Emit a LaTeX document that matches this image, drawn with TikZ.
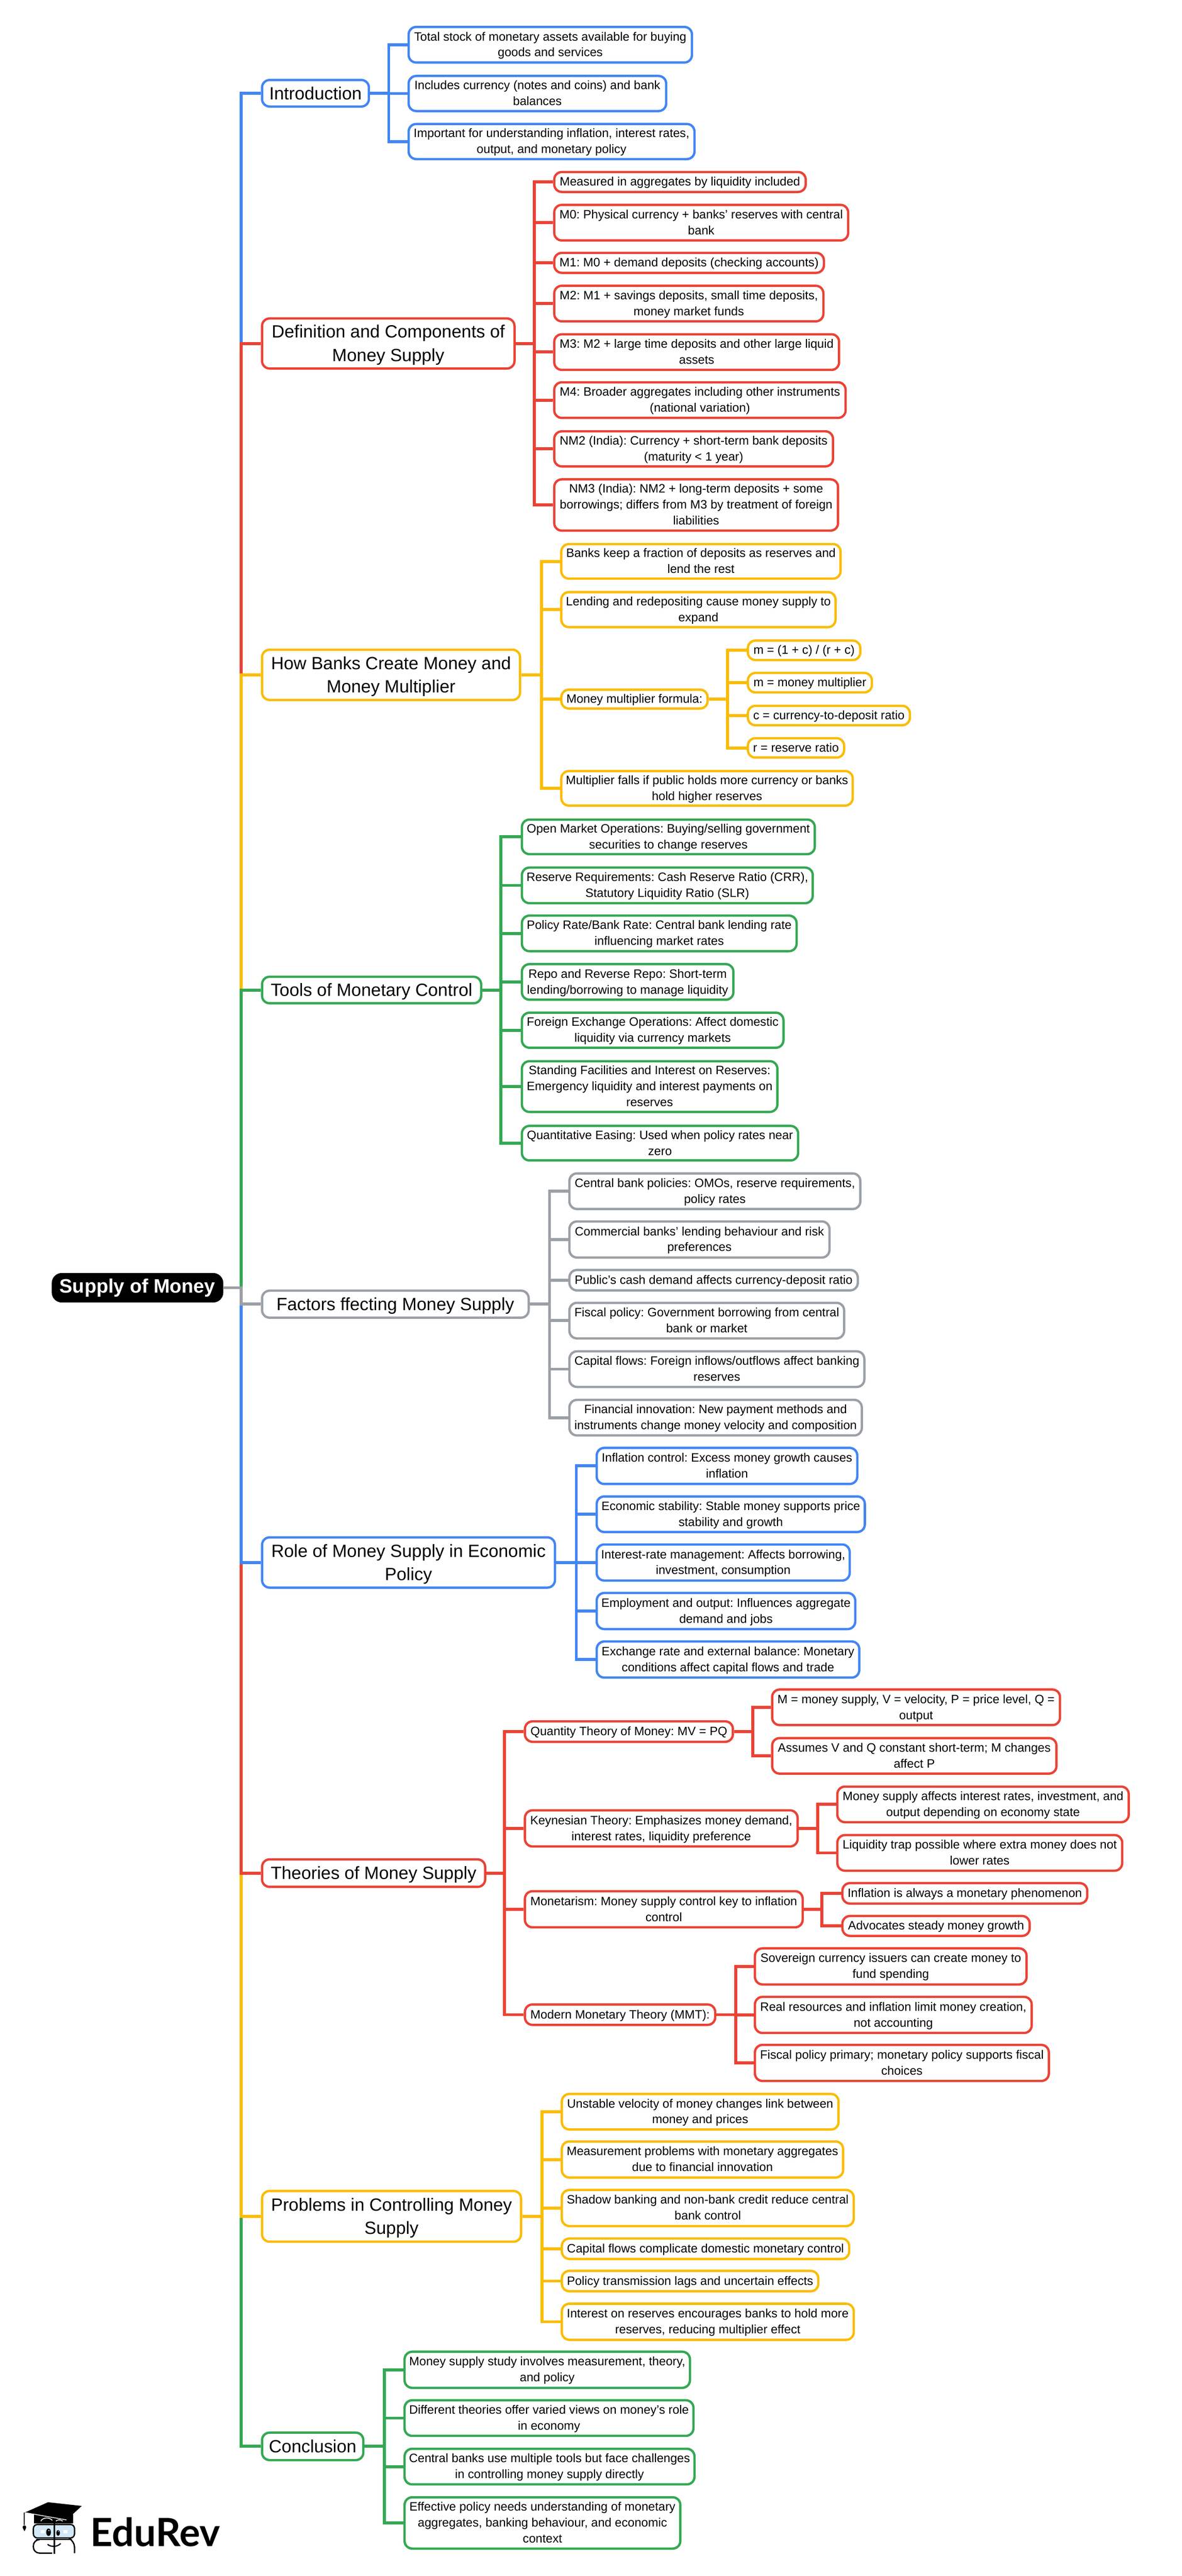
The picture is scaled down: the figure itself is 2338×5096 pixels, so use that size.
\documentclass[tikz,border=0pt]{standalone}
\usepackage{fontspec}
\setmainfont{Liberation Sans}
\newfontfamily\brandfont{Lato}
\definecolor{mapblue}{rgb}{0.259,0.522,0.957}
\definecolor{mapred}{rgb}{0.918,0.263,0.208}
\definecolor{mapyellow}{rgb}{0.984,0.737,0.016}
\definecolor{mapgreen}{rgb}{0.204,0.659,0.325}
\definecolor{mapgrey}{rgb}{0.604,0.627,0.651}
\definecolor{glassblue}{rgb}{0.82,0.91,0.97}
\tikzset{
  mapbox/.style={draw,fill=white,rounded corners=7.5pt,line width=2.3pt,inner sep=0pt,align=center,execute at begin node=\frenchspacing},
  leaf/.style={mapbox,font=\fontsize{12.05}{15.75}\selectfont\def\nudgept{1.5pt}},
  topic/.style={mapbox,font=\fontsize{17.5}{23.25}\selectfont\def\nudgept{3pt}},
  rootbox/.style={fill=black,text=white,rounded corners=10pt,inner sep=0pt,font=\fontsize{19.25}{24}\selectfont\bfseries\def\nudgept{1pt}},
  link/.style={line width=3pt}
}
% style, name, left, top, right, bottom, text
\newcommand{\mapnode}[7]{\node[#1,minimum width={(#5-#3-4.6)*0.5pt},minimum height={(#6-#4-4.6)*0.5pt}] (#2) at ({(#3+#5)/2},{(#4+#6)/2}) {\rule{0pt}{\dimexpr0.7\baselineskip+\nudgept}#7\strut};}
% colour, parent, run to the fork, children
\newcommand{\fanout}[4]{\foreach \kid in {#4} \draw[link,#1] (#2.east) -- ++(#3,0) |- (\kid.west);}
\begin{document}
\begin{tikzpicture}[x=0.5pt,y=-0.5pt,line join=miter]
\useasboundingbox (0,0) rectangle (2338,5096);
\mapnode{rootbox}{money}{100}{2516}{444}{2579}{Supply of Money}
\mapnode{topic,draw=mapblue}{intro}{516}{156}{732}{213}{Introduction}
\mapnode{topic,draw=mapred}{defn}{516}{628}{1020}{731}{Definition and Components of\\Money Supply}
\mapnode{topic,draw=mapyellow}{banks}{516}{1283}{1031}{1387}{How Banks Create Money and\\Money Multiplier}
\mapnode{topic,draw=mapgreen}{tools}{516}{1930}{954}{1987}{Tools of Monetary Control}
\mapnode{topic,draw=mapgrey}{factors}{516}{2551}{1048}{2609}{Factors ffecting Money Supply}
\mapnode{topic,draw=mapblue}{role}{516}{3039}{1100}{3143}{Role of Money Supply in Economic\\Policy}
\mapnode{topic,draw=mapred}{theories}{516}{3676}{962}{3735}{Theories of Money Supply}
\mapnode{topic,draw=mapyellow}{problems}{516}{4332}{1033}{4437}{Problems in Controlling Money\\Supply}
\mapnode{topic,draw=mapgreen}{concl}{516}{4810}{721}{4869}{Conclusion}

\mapnode{leaf,draw=mapblue}{introa}{806}{51}{1371}{126}{Total stock of monetary assets available for buying\\goods and services}
\mapnode{leaf,draw=mapblue}{introb}{806}{148}{1320}{222}{Includes currency (notes and coins) and bank\\balances}
\mapnode{leaf,draw=mapblue}{introc}{806}{243}{1376}{317}{Important for understanding inflation, interest rates,\\output, and monetary policy}

\mapnode{leaf,draw=mapred}{defna}{1094}{338}{1596}{382}{Measured in aggregates by liquidity included}
\mapnode{leaf,draw=mapred}{defnb}{1094}{403}{1680}{478}{M0: Physical currency + banks' reserves with central\\bank}
\mapnode{leaf,draw=mapred}{defnc}{1094}{498}{1632}{542}{M1: M0 + demand deposits (checking accounts)}
\mapnode{leaf,draw=mapred}{defnd}{1094}{563}{1631}{638}{M2: M1 + savings deposits, small time deposits,\\money market funds}
\mapnode{leaf,draw=mapred}{defne}{1094}{659}{1662}{734}{M3: M2 + large time deposits and other large liquid\\assets}
\mapnode{leaf,draw=mapred}{defnf}{1094}{754}{1675}{829}{M4: Broader aggregates including other instruments\\(national variation)}
\mapnode{leaf,draw=mapred}{defng}{1094}{851}{1650}{925}{NM2 (India): Currency + short-term bank deposits\\(maturity < 1 year)}
\mapnode{leaf,draw=mapred}{defnh}{1094}{946}{1660}{1052}{NM3 (India): NM2 + long-term deposits + some\\borrowings; differs from M3 by treatment of foreign\\liabilities}

\mapnode{leaf,draw=mapyellow}{banksa}{1108}{1074}{1665}{1147}{Banks keep a fraction of deposits as reserves and\\lend the rest}
\mapnode{leaf,draw=mapyellow}{banksb}{1108}{1169}{1655}{1243}{Lending and redepositing cause money supply to\\expand}
\mapnode{leaf,draw=mapyellow}{banksc}{1108}{1362}{1402}{1404}{Money multiplier formula:}
\mapnode{leaf,draw=mapyellow}{banksd}{1108}{1523}{1689}{1596}{Multiplier falls if public holds more currency or banks\\hold higher reserves}
\mapnode{leaf,draw=mapyellow}{formula}{1477}{1265}{1704}{1308}{m = (1 + c) / (r + c)}
\mapnode{leaf,draw=mapyellow}{multi}{1477}{1329}{1727}{1372}{m = money multiplier}
\mapnode{leaf,draw=mapyellow}{curr}{1477}{1394}{1802}{1437}{c = currency-to-deposit ratio}
\mapnode{leaf,draw=mapyellow}{resv}{1477}{1458}{1672}{1501}{r = reserve ratio}

\mapnode{leaf,draw=mapgreen}{toolsa}{1030}{1619}{1614}{1692}{Open Market Operations: Buying/selling government\\securities to change reserves}
\mapnode{leaf,draw=mapgreen}{toolsb}{1030}{1714}{1610}{1789}{Reserve Requirements: Cash Reserve Ratio (CRR),\\Statutory Liquidity Ratio (SLR)}
\mapnode{leaf,draw=mapgreen}{toolsc}{1030}{1809}{1578}{1884}{Policy Rate/Bank Rate: Central bank lending rate\\influencing market rates}
\mapnode{leaf,draw=mapgreen}{toolsd}{1030}{1905}{1453}{1980}{Repo and Reverse Repo: Short-term\\lending/borrowing to manage liquidity}
\mapnode{leaf,draw=mapgreen}{toolse}{1030}{2001}{1552}{2075}{Foreign Exchange Operations: Affect domestic\\liquidity via currency markets}
\mapnode{leaf,draw=mapgreen}{toolsf}{1030}{2097}{1540}{2202}{Standing Facilities and Interest on Reserves:\\Emergency liquidity and interest payments on\\reserves}
\mapnode{leaf,draw=mapgreen}{toolsg}{1030}{2225}{1581}{2298}{Quantitative Easing: Used when policy rates near\\zero}

\mapnode{leaf,draw=mapgrey}{factorsa}{1124}{2319}{1704}{2394}{Central bank policies: OMOs, reserve requirements,\\policy rates}
\mapnode{leaf,draw=mapgrey}{factorsb}{1124}{2414}{1643}{2490}{Commercial banks' lending behaviour and risk\\preferences}
\mapnode{leaf,draw=mapgrey}{factorsc}{1124}{2510}{1699}{2555}{Public's cash demand affects currency-deposit ratio}
\mapnode{leaf,draw=mapgrey}{factorsd}{1124}{2575}{1672}{2650}{Fiscal policy: Government borrowing from central\\bank or market}
\mapnode{leaf,draw=mapgrey}{factorse}{1124}{2671}{1712}{2746}{Capital flows: Foreign inflows/outflows affect banking\\reserves}
\mapnode{leaf,draw=mapgrey}{factorsf}{1124}{2767}{1707}{2842}{Financial innovation: New payment methods and\\instruments change money velocity and composition}

\mapnode{leaf,draw=mapblue}{rolea}{1178}{2862}{1698}{2938}{Inflation control: Excess money growth causes\\inflation}
\mapnode{leaf,draw=mapblue}{roleb}{1178}{2958}{1713}{3033}{Economic stability: Stable money supports price\\stability and growth}
\mapnode{leaf,draw=mapblue}{rolec}{1178}{3053}{1683}{3129}{Interest-rate management: Affects borrowing,\\investment, consumption}
\mapnode{leaf,draw=mapblue}{roled}{1178}{3149}{1694}{3225}{Employment and output: Influences aggregate\\demand and jobs}
\mapnode{leaf,draw=mapblue}{rolee}{1178}{3245}{1702}{3321}{Exchange rate and external balance: Monetary\\conditions affect capital flows and trade}

\mapnode{leaf,draw=mapred}{quantity}{1036}{3403}{1452}{3448}{Quantity Theory of Money: MV = PQ}
\mapnode{leaf,draw=mapred}{keynes}{1036}{3579}{1580}{3655}{Keynesian Theory: Emphasizes money demand,\\interest rates, liquidity preference}
\mapnode{leaf,draw=mapred}{monet}{1036}{3739}{1590}{3815}{Monetarism: Money supply control key to inflation\\control}
\mapnode{leaf,draw=mapred}{modern}{1036}{3963}{1417}{4008}{Modern Monetary Theory (MMT):}
\mapnode{leaf,draw=mapred}{quanta}{1525}{3340}{2099}{3415}{M = money supply, V = velocity, P = price level, Q =\\output}
\mapnode{leaf,draw=mapred}{quantb}{1525}{3436}{2092}{3511}{Assumes V and Q constant short-term; M changes\\affect P}
\mapnode{leaf,draw=mapred}{keynesa}{1654}{3532}{2235}{3607}{Money supply affects interest rates, investment, and\\output depending on economy state}
\mapnode{leaf,draw=mapred}{keynesb}{1654}{3628}{2222}{3703}{Liquidity trap possible where extra money does not\\lower rates}
\mapnode{leaf,draw=mapred}{moneta}{1664}{3723}{2153}{3768}{Inflation is always a monetary phenomenon}
\mapnode{leaf,draw=mapred}{monetb}{1664}{3788}{2039}{3832}{Advocates steady money growth}
\mapnode{leaf,draw=mapred}{moderna}{1491}{3852}{2033}{3928}{Sovereign currency issuers can create money to\\fund spending}
\mapnode{leaf,draw=mapred}{modernb}{1491}{3948}{2043}{4024}{Real resources and inflation limit money creation,\\not accounting}
\mapnode{leaf,draw=mapred}{modernc}{1491}{4043}{2077}{4119}{Fiscal policy primary; monetary policy supports fiscal\\choices}

\mapnode{leaf,draw=mapyellow}{problemsa}{1109}{4140}{1661}{4215}{Unstable velocity of money changes link between\\money and prices}
\mapnode{leaf,draw=mapyellow}{problemsb}{1109}{4234}{1670}{4310}{Measurement problems with monetary aggregates\\due to financial innovation}
\mapnode{leaf,draw=mapyellow}{problemsc}{1109}{4330}{1691}{4406}{Shadow banking and non-bank credit reduce central\\bank control}
\mapnode{leaf,draw=mapyellow}{problemsd}{1109}{4426}{1682}{4471}{Capital flows complicate domestic monetary control}
\mapnode{leaf,draw=mapyellow}{problemse}{1109}{4490}{1621}{4535}{Policy transmission lags and uncertain effects}
\mapnode{leaf,draw=mapyellow}{problemsf}{1109}{4555}{1691}{4631}{Interest on reserves encourages banks to hold more\\reserves, reducing multiplier effect}

\mapnode{leaf,draw=mapgreen}{concla}{798}{4650}{1367}{4726}{Money supply study involves measurement, theory,\\and policy}
\mapnode{leaf,draw=mapgreen}{conclb}{798}{4746}{1374}{4821}{Different theories offer varied views on money's role\\in economy}
\mapnode{leaf,draw=mapgreen}{conclc}{798}{4842}{1376}{4917}{Central banks use multiple tools but face challenges\\in controlling money supply directly}
\mapnode{leaf,draw=mapgreen}{concld}{798}{4938}{1348}{5044}{Effective policy needs understanding of monetary\\aggregates, banking behaviour, and economic\\context}

\foreach \kid/\col in {intro/mapblue,defn/mapred,banks/mapyellow,tools/mapgreen,concl/mapgreen,problems/mapyellow,theories/mapred,role/mapblue,factors/mapgrey}
  \draw[link,\col] (money.east) -- ++(35,0) |- (\kid.west);
\fanout{mapblue}{intro}{37}{introa,introb,introc}
\fanout{mapred}{defn}{37}{defna,defnb,defnc,defnd,defne,defnf,defng,defnh}
\fanout{mapyellow}{banks}{40}{banksa,banksb,banksc,banksd}
\fanout{mapyellow}{banksc}{37}{formula,multi,curr,resv}
\fanout{mapgreen}{tools}{37}{toolsa,toolsb,toolsc,toolsd,toolse,toolsf,toolsg}
\fanout{mapgrey}{factors}{39}{factorsa,factorsb,factorsc,factorsd,factorse,factorsf}
\fanout{mapblue}{role}{40}{rolea,roleb,rolec,roled,rolee}
\fanout{mapred}{theories}{36}{quantity,keynes,monet,modern}
\fanout{mapred}{quantity}{37}{quanta,quantb}
\fanout{mapred}{keynes}{37}{keynesa,keynesb}
\fanout{mapred}{monet}{36}{moneta,monetb}
\fanout{mapred}{modern}{38}{moderna,modernb,modernc}
\fanout{mapyellow}{problems}{39}{problemsa,problemsb,problemsc,problemsd,problemse,problemsf}
\fanout{mapgreen}{concl}{39}{concla,conclb,conclc,concld}

\begin{scope}[shift={(30,4930)},x=0.1667pt,y=-0.1667pt]
\fill (55,122) -- (195,60) -- (395,82) -- (305,165) -- cycle;
\fill (112,132) -- (345,132) -- (345,186) -- (112,186) -- cycle;
\draw[line width=1pt] (55,122) -- (55,195);
\fill (55,232) .. controls (50,222) and (43,212) .. (45,205) .. controls (47,195) and (63,195) .. (65,205) .. controls (67,212) and (60,222) .. (55,232) -- cycle;
\draw[white,line width=0.8pt] (152,172) .. controls (165,148) and (205,148) .. (220,168);
\draw[white,line width=0.8pt] (242,172) .. controls (250,162) and (270,162) .. (282,172);
\draw[white,line width=0.7pt] (60,122) -- (305,165);
\draw[line width=1.3pt,fill=glassblue,rounded corners=4pt] (108,192) rectangle (352,272);
\draw[line width=1.3pt,rounded corners=6pt] (125,282) -- (108,282) -- (108,362) -- (220,362);
\draw[line width=1.3pt,rounded corners=6pt] (335,282) -- (352,290) -- (352,362);
\draw[line width=1.3pt] (125,280) -- (335,280);
\draw[line width=1.6pt] (232,165) -- (232,366);
\fill (198,238) ellipse (14 and 22);
\fill (255,242) ellipse (11 and 17);
\fill[white] (200,228) circle (4);
\fill[white] (257,233) circle (3);
\fill[white] (152,226) rectangle (175,244);
\fill[white] (287,226) rectangle (310,244);
\draw[line width=1.2pt] (192,310) .. controls (215,328) and (250,325) .. (270,305);
\end{scope}
\node[anchor=base west,inner sep=0pt,font=\brandfont\bfseries\fontsize{38.5}{40}\selectfont] (brand) at (178,5037) {EduRev};
\end{tikzpicture}
\end{document}
